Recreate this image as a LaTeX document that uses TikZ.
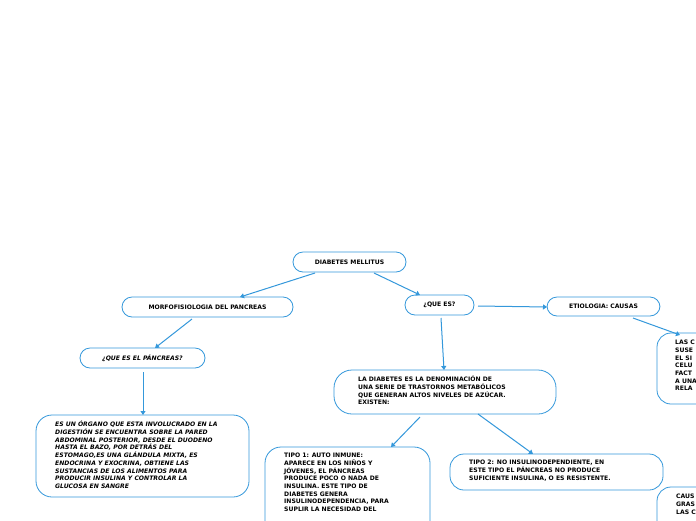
\documentclass[tikz,border=0pt]{standalone}
\usepackage{fontspec}
\setmainfont{DejaVu Sans}
\usetikzlibrary{arrows.meta}
\definecolor{bl}{RGB}{52,152,219}
\tikzset{box/.style={draw=bl,line width=0.8pt,rounded corners=10pt,fill=white},
 tx/.style={font=\bfseries\fontsize{6.1}{7.7}\selectfont,align=left,anchor=north west,inner sep=0pt},
 ln/.style={draw=bl,line width=1pt,-{Triangle[length=4pt,width=5pt]}}}
\begin{document}
\begin{tikzpicture}[x=1pt,y=-1pt]
\useasboundingbox (0,0) rectangle (696,520);
\clip (0,0) rectangle (696,520);
\fill[white] (0,0) rectangle (696,520);
\draw[box] (293,252) rectangle (406,272); \node[tx,anchor=center] (dm) at (349.5,262) {DIABETES MELLITUS};
\draw[box] (122,297) rectangle (293,317); \node[tx,anchor=center] (mf) at (207.5,307) {MORFOFISIOLOGIA DEL PANCREAS};
\draw[box] (405,295) rectangle (474,315); \node[tx,anchor=center] (qe) at (439.5,305) {¿QUE ES?};
\draw[box] (547,297) rectangle (660,316); \node[tx,anchor=center] (et) at (603.5,306.5) {ETIOLOGIA: CAUSAS};
\draw[box] (80,348) rectangle (205,368); \node[tx,anchor=center] (qp) at (142.5,358) {\itshape ¿QUE ES EL PÁNCREAS?};
\draw[box,rounded corners=16pt] (36,415) rectangle (249,497);
\node[tx] (og) at (55,421) {\itshape ES UN ÓRGANO QUE ESTA INVOLUCRADO EN LA\\\itshape DIGESTIÓN SE ENCUENTRA SOBRE LA PARED\\\itshape ABDOMINAL POSTERIOR, DESDE EL DUODENO\\\itshape HASTA EL BAZO, POR DETRÁS DEL\\\itshape ESTOMAGO,ES UNA GLÁNDULA MIXTA, ES\\\itshape ENDOCRINA Y EXOCRINA, OBTIENE LAS\\\itshape SUSTANCIAS DE LOS ALIMENTOS PARA\\\itshape PRODUCIR INSULINA Y CONTROLAR LA\\\itshape GLUCOSA EN SANGRE};
\draw[box,rounded corners=18pt] (334,370) rectangle (556,414);
\node[tx] (ld) at (358,376) {LA DIABETES ES LA DENOMINACIÓN DE\\UNA SERIE DE TRASTORNOS METABÓLICOS\\QUE GENERAN ALTOS NIVELES DE AZÚCAR.\\EXISTEN:};
\draw[box,rounded corners=16pt] (265,447) rectangle (430,540);
\node[tx] (t1) at (284,453) {TIPO 1: AUTO INMUNE:\\APARECE EN LOS NIÑOS Y\\JÓVENES, EL PÁNCREAS\\PRODUCE POCO O NADA DE\\INSULINA. ESTE TIPO DE\\DIABETES GENERA\\INSULINODEPENDENCIA, PARA\\SUPLIR LA NECESIDAD DEL};
\draw[box,rounded corners=14pt] (450,454) rectangle (663,490);
\node[tx] (t2) at (469,460) {TIPO 2: NO INSULINODEPENDIENTE, EN\\ESTE TIPO EL PÁNCREAS NO PRODUCE\\SUFICIENTE INSULINA, O ES RESISTENTE.};
\draw[box,rounded corners=14pt] (657,333) rectangle (760,404);
\node[tx] (lc) at (675,340) {LAS C\\SUSE\\EL SI\\CELU\\FACT\\A UNA\\RELA};
\draw[box,rounded corners=14pt] (657,487) rectangle (760,560);
\node[tx] (ca) at (676,494) {CAUS\\GRAS\\LAS C};
\coordinate (lcT) at (680,335);
\draw[ln] (315,273) -- (240,297);
\draw[ln] (374,273) -- (420,295);
\draw[ln] (478,306) -- (547,307);
\draw[ln] (441,318) -- (444,370);
\draw[ln] (192,319) -- (155,348);
\draw[ln] (143,372) -- (143,415);
\draw[ln] (420,417) -- (391,447);
\draw[ln] (478,414) -- (533,454);
\draw[ln] (633,318) -- (lcT);
\end{tikzpicture}
\end{document}
